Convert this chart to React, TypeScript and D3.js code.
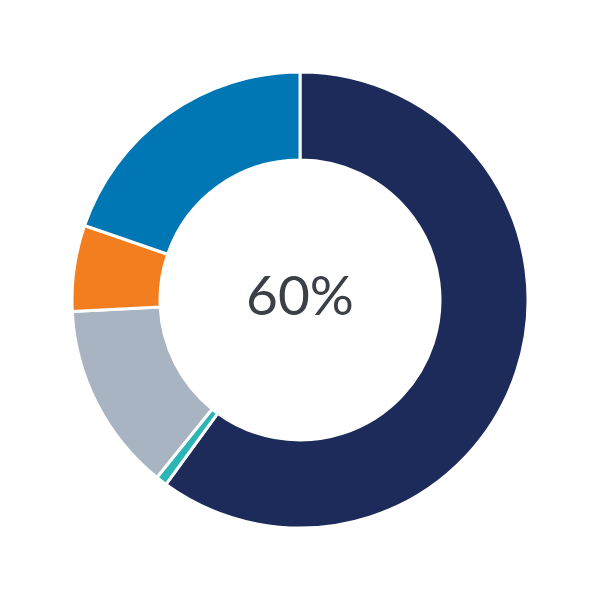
import * as d3 from 'd3';

// Segment values read clockwise from 12 o'clock
const labels = ['Navy', 'Teal', 'Gray', 'Orange', 'Blue'];
const values = [60, 0.8, 13.4, 6.1, 19.7];
const colors = ['#1c2b5a', '#2bb5b5', '#a9b4c2', '#f27e1f', '#0077b5'];
const centerLabel = '60%';

export default function App(): JSX.Element {
  const width = 600;
  const height = 600;
  const cx = 300;
  const cy = 300;
  const outer = 228;
  const inner = 140;

  const pie = d3.pie<number>().sort(null).value(d => d);
  const arcs = pie(values);
  const arc = d3.arc<d3.PieArcDatum<number>>()
    .innerRadius(inner)
    .outerRadius(outer);

  return (
    <svg
      width={width}
      height={height}
      style={{ position: 'absolute', left: 0, top: 0, background: '#fff' }}
    >
      <g transform={`translate(${cx},${cy})`}>
        {arcs.map((a, i) => (
          <path
            key={labels[i]}
            d={arc(a) ?? ''}
            fill={colors[i]}
            stroke="#fff"
            strokeWidth={3}
          />
        ))}
        <text
          x={0}
          y={-4}
          dy="0.35em"
          textAnchor="middle"
          fontFamily="Lato, 'Open Sans', sans-serif"
          fontWeight={400}
          fontSize={55}
          fill="#3b3f46"
        >
          {centerLabel}
        </text>
      </g>
    </svg>
  );
}
